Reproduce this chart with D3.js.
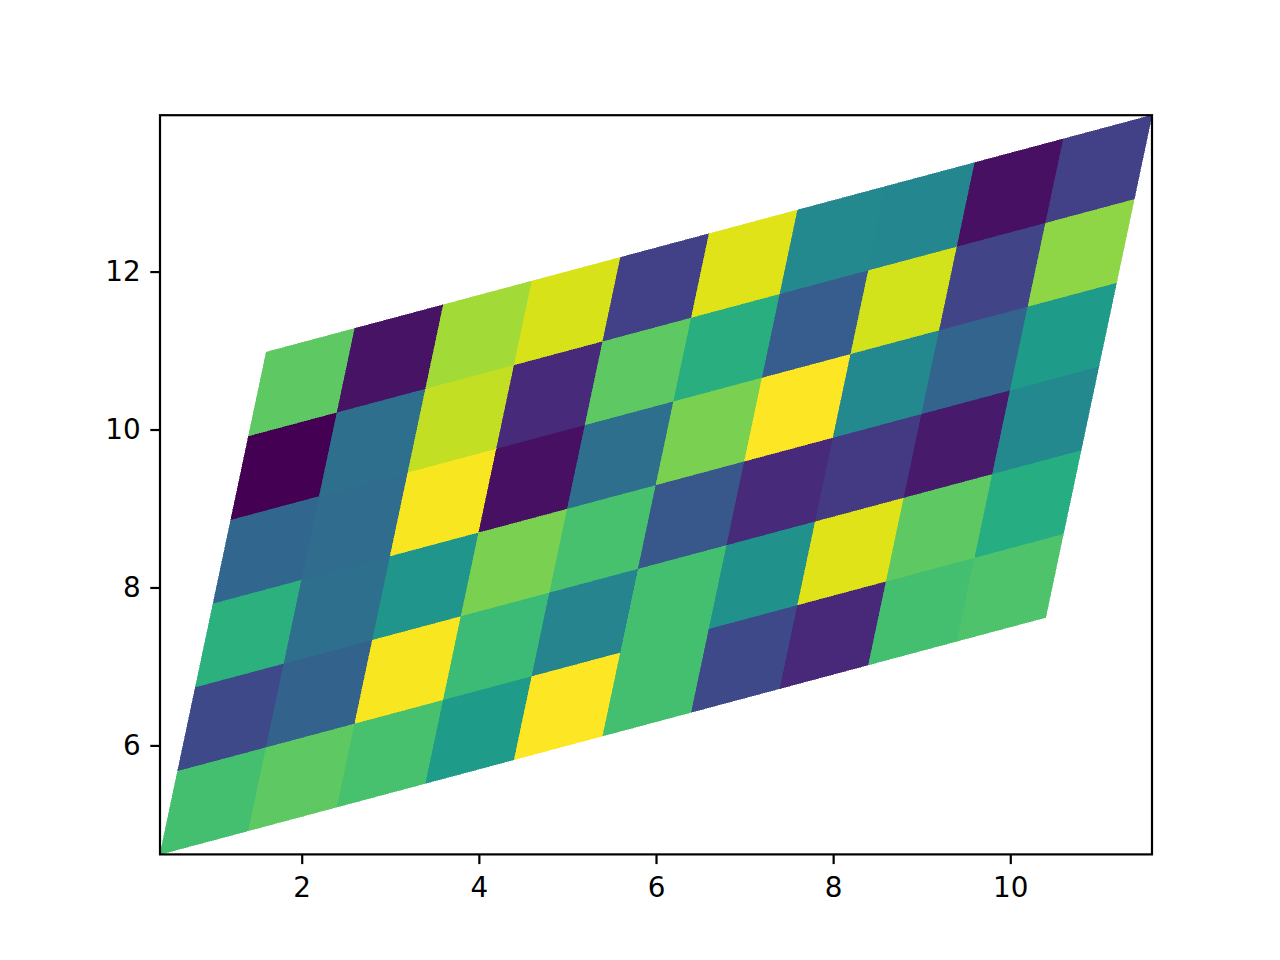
<!DOCTYPE html>
<html>
    <head>
        <title>Skewed pcolormesh</title>
        <style>
            body { margin: 0; background: #fff; }
            .tick text { font-family: "DejaVu Sans", sans-serif; font-size: 27.8px; fill: #000; }
        </style>
        <script src="https://cdnjs.cloudflare.com/ajax/libs/d3/7.8.5/d3.min.js" charset="utf-8"></script>
    </head>
    <body>
        <div id="chart"></div>
        <script>
            // mesh vertex coordinates, 7 rows x 11 columns (row 0 = bottom edge)
            const meshX = [
                [0.4, 1.4, 2.4, 3.4, 4.4, 5.4, 6.4, 7.4, 8.4, 9.4, 10.4],
                [0.6, 1.6, 2.6, 3.6, 4.6, 5.6, 6.6, 7.6, 8.6, 9.6, 10.6],
                [0.8, 1.8, 2.8, 3.8, 4.8, 5.8, 6.8, 7.8, 8.8, 9.8, 10.8],
                [1.0, 2.0, 3.0, 4.0, 5.0, 6.0, 7.0, 8.0, 9.0, 10.0, 11.0],
                [1.2, 2.2, 3.2, 4.2, 5.2, 6.2, 7.2, 8.2, 9.2, 10.2, 11.2],
                [1.4, 2.4, 3.4, 4.4, 5.4, 6.4, 7.4, 8.4, 9.4, 10.4, 11.4],
                [1.6, 2.6, 3.6, 4.6, 5.6, 6.6, 7.6, 8.6, 9.6, 10.6, 11.6]
            ];
            const meshY = [
                [4.62, 4.92, 5.22, 5.52, 5.82, 6.12, 6.42, 6.72, 7.02, 7.32, 7.62],
                [5.68, 5.98, 6.28, 6.58, 6.88, 7.18, 7.48, 7.78, 8.08, 8.38, 8.68],
                [6.74, 7.04, 7.34, 7.64, 7.94, 8.24, 8.54, 8.84, 9.14, 9.44, 9.74],
                [7.80, 8.10, 8.40, 8.70, 9.00, 9.30, 9.60, 9.90, 10.20, 10.50, 10.80],
                [8.86, 9.16, 9.46, 9.76, 10.06, 10.36, 10.66, 10.96, 11.26, 11.56, 11.86],
                [9.92, 10.22, 10.52, 10.82, 11.12, 11.42, 11.72, 12.02, 12.32, 12.62, 12.92],
                [10.98, 11.28, 11.58, 11.88, 12.18, 12.48, 12.78, 13.08, 13.38, 13.68, 13.98]
            ];
            // cell values, 6 rows x 10 columns (row 0 = bottom)
            const values = [
                [0.70, 0.75, 0.71, 0.55, 1.00, 0.70, 0.22, 0.11, 0.70, 0.72],
                [0.22, 0.31, 0.99, 0.68, 0.45, 0.70, 0.50, 0.95, 0.75, 0.62],
                [0.64, 0.36, 0.52, 0.80, 0.71, 0.27, 0.12, 0.17, 0.07, 0.47],
                [0.33, 0.35, 0.99, 0.04, 0.36, 0.80, 1.00, 0.47, 0.32, 0.55],
                [0.00, 0.36, 0.91, 0.12, 0.75, 0.63, 0.29, 0.93, 0.20, 0.83],
                [0.75, 0.05, 0.86, 0.94, 0.19, 0.95, 0.47, 0.46, 0.04, 0.19]
            ];
            const xTicks = [2, 4, 6, 8, 10];
            const yTicks = [6, 8, 10, 12];

            const W = 1280, H = 960;
            const plotLeft = 160, plotRight = 1152, plotTop = 115.2, plotBottom = 854.4;

            const svg = d3.select("#chart").append("svg")
                .attr("width", W)
                .attr("height", H);

            const allX = meshX.flat(), allY = meshY.flat();
            const xScale = d3.scaleLinear()
                .domain([d3.min(allX), d3.max(allX)])
                .range([plotLeft, plotRight]);
            const yScale = d3.scaleLinear()
                .domain([d3.min(allY), d3.max(allY)])
                .range([plotBottom, plotTop]);

            const allZ = values.flat();
            const color = d3.scaleSequential(d3.interpolateViridis)
                .domain([d3.min(allZ), d3.max(allZ)]);

            // build quads
            const cells = [];
            values.forEach((row, j) => {
                row.forEach((v, i) => {
                    cells.push({
                        v: v,
                        pts: [
                            [meshX[j][i], meshY[j][i]],
                            [meshX[j][i + 1], meshY[j][i + 1]],
                            [meshX[j + 1][i + 1], meshY[j + 1][i + 1]],
                            [meshX[j + 1][i], meshY[j + 1][i]]
                        ]
                    });
                });
            });

            const line = d3.line()
                .x(d => xScale(d[0]))
                .y(d => yScale(d[1]))
                .curve(d3.curveLinearClosed);

            svg.append("g")
                .selectAll("path")
                .data(cells)
                .enter()
                .append("path")
                .attr("d", d => line(d.pts))
                .attr("fill", d => color(d.v))
                .attr("stroke", d => color(d.v))
                .attr("stroke-width", 0.6)
                .attr("shape-rendering", "crispEdges");

            const xAxis = d3.axisBottom(xScale)
                .tickValues(xTicks)
                .tickSize(9.7)
                .tickSizeOuter(0)
                .tickPadding(9.7);
            const yAxis = d3.axisLeft(yScale)
                .tickValues(yTicks)
                .tickSize(9.7)
                .tickSizeOuter(0)
                .tickPadding(9.7);

            const gx = svg.append("g")
                .attr("transform", "translate(0," + plotBottom + ")")
                .call(xAxis);
            gx.select(".domain").remove();
            gx.selectAll(".tick line").attr("stroke", "#000").attr("stroke-width", 2.2);
            gx.selectAll(".tick text").attr("dy", "0.85em");

            const gy = svg.append("g")
                .attr("transform", "translate(" + plotLeft + ",0)")
                .call(yAxis);
            gy.select(".domain").remove();
            gy.selectAll(".tick line").attr("stroke", "#000").attr("stroke-width", 2.2);

            svg.append("rect")
                .attr("x", plotLeft)
                .attr("y", plotTop)
                .attr("width", plotRight - plotLeft)
                .attr("height", plotBottom - plotTop)
                .attr("fill", "none")
                .attr("stroke", "#000")
                .attr("stroke-width", 2.2);
        </script>
    </body>
</html>
